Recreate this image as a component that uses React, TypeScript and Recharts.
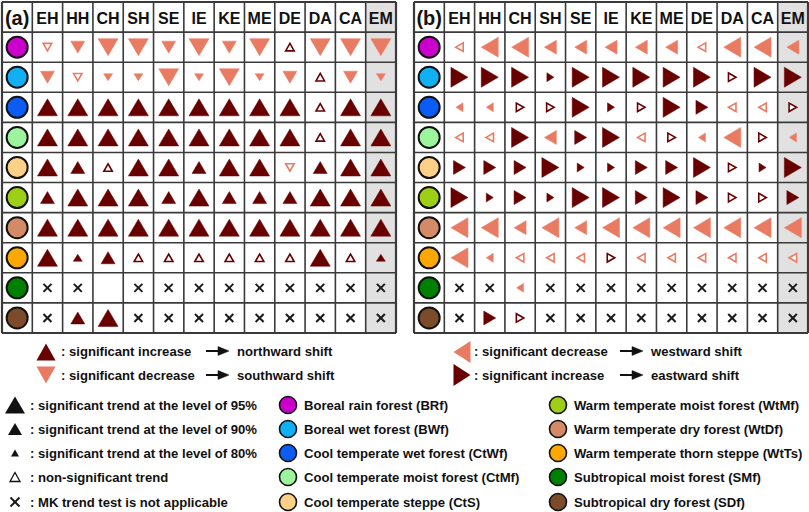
import React from "react";
import { ScatterChart, Scatter, XAxis, YAxis, ReferenceLine, ReferenceArea } from "recharts";

// ── data ────────────────────────────────────────────────────────────────────
const REGIONS = ["EH", "HH", "CH", "SH", "SE", "IE", "KE", "ME", "DE", "DA", "CA", "EM"];
const ZONES = ["BRf", "BWf", "CtWf", "CtMf", "CtS", "WtMf", "WtDf", "WtTs", "SMf", "SDf"];
const ZONE_NAMES = [
  "Boreal rain forest (BRf)", "Boreal wet forest (BWf)", "Cool temperate wet forest (CtWf)",
  "Cool temperate moist forest (CtMf)", "Cool temperate steppe (CtS)",
  "Warm temperate moist forest (WtMf)", "Warm temperate dry forest (WtDf)",
  "Warm temperate thorn steppe (WtTs)", "Subtropical moist forest (SMf)", "Subtropical dry forest (SDf)",
];
const ZONE_COLORS = [
  "#cc00cc", "#11b0f5", "#0b5cf3", "#9cf59c", "#fdd088",
  "#9dcf17", "#d48a66", "#fca800", "#008000", "#7b4b2a",
];

// code = direction + level (3/2/1 = 95/90/80 %, 0 = not significant), "x" = n/a, "" = empty
// (a) latitude: U = increase (northward), D = decrease (southward)
const LAT_TRENDS = [
  ["D0", "D2", "D3", "D3", "D2", "D3", "D2", "D3", "U0", "D3", "D3", "D3"],
  ["D2", "D0", "D1", "D1", "D3", "D1", "D3", "D1", "D2", "U0", "D2", "D1"],
  ["U3", "U3", "U3", "U3", "U3", "U3", "U3", "U3", "U3", "U0", "U3", "U3"],
  ["U3", "U3", "U3", "U3", "U3", "U3", "U3", "U3", "U3", "U0", "U3", "U3"],
  ["U3", "U2", "U0", "U3", "U3", "U2", "U3", "U3", "D0", "U2", "U3", "U3"],
  ["U2", "U3", "U3", "U3", "U2", "U3", "U2", "U2", "U2", "U3", "U3", "U3"],
  ["U3", "U3", "U3", "U3", "U3", "U3", "U3", "U3", "U3", "U3", "U3", "U3"],
  ["U3", "U1", "U2", "U0", "U0", "U0", "U0", "U0", "U0", "U3", "U0", "U1"],
  ["x", "x", "", "x", "x", "x", "x", "x", "x", "x", "x", "x"],
  ["x", "U2", "U3", "x", "x", "x", "x", "x", "x", "x", "x", "x"],
];
// (b) longitude: R = increase (eastward), L = decrease (westward)
const LON_TRENDS = [
  ["L0", "L3", "L3", "L2", "L2", "L2", "L2", "L2", "L0", "L3", "L3", "L2"],
  ["R3", "R3", "R3", "R1", "R3", "R3", "R3", "R3", "R3", "R0", "R3", "R3"],
  ["L1", "L1", "R0", "R0", "R3", "R1", "R0", "R3", "R2", "L0", "L0", "R0"],
  ["L0", "L0", "R3", "L2", "R2", "R3", "L0", "R0", "L1", "L3", "R0", "L1"],
  ["R2", "R2", "R2", "R3", "R1", "R1", "R2", "R2", "R3", "R0", "R1", "R3"],
  ["R3", "R1", "R2", "R1", "R3", "R3", "R2", "R3", "R2", "R0", "R0", "R2"],
  ["L3", "L3", "L2", "L3", "L2", "L3", "L3", "L3", "L3", "L3", "L3", "L3"],
  ["L3", "L1", "L0", "L0", "L0", "R0", "L0", "L0", "L0", "L0", "L0", "L0"],
  ["x", "x", "L1", "x", "x", "x", "x", "x", "x", "x", "x", "x"],
  ["x", "R2", "R0", "x", "x", "x", "x", "x", "x", "x", "x", "x"],
];

const SIG_LABELS = [
  ": significant trend at the level of 95%", ": significant trend at the level of 90%",
  ": significant trend at the level of 80%", ": non-significant trend", ": MK trend test is not applicable",
];

// ── styles ──────────────────────────────────────────────────────────────────
const FONT = "'Liberation Sans', Arial, sans-serif";
const DARK = "#680000";
const SALMON = "#ea7b63";
const LINE = "#3a3a3a";
// [base, height] per level
const SIZE: Record<number, [number, number]> = { 3: [20, 17], 2: [14, 12], 1: [9, 7], 0: [10, 9] };

function triPoints(dir: string, cx: number, cy: number, b: number, h: number) {
  const p = (a: number[][]) => a.map((q) => q.join(",")).join(" ");
  switch (dir) {
    case "U": return p([[cx - b / 2, cy + h / 2], [cx + b / 2, cy + h / 2], [cx, cy - h / 2]]);
    case "D": return p([[cx - b / 2, cy - h / 2], [cx + b / 2, cy - h / 2], [cx, cy + h / 2]]);
    case "R": return p([[cx - h / 2, cy - b / 2], [cx - h / 2, cy + b / 2], [cx + h / 2, cy]]);
    default:  return p([[cx + h / 2, cy - b / 2], [cx + h / 2, cy + b / 2], [cx - h / 2, cy]]);
  }
}

function Cross({ cx, cy, s = 4 }: { cx: number; cy: number; s?: number }) {
  return (
    <g stroke="#1a1a1a" strokeWidth={2}>
      <line x1={cx - s} y1={cy - s} x2={cx + s} y2={cy + s} />
      <line x1={cx - s} y1={cy + s} x2={cx + s} y2={cy - s} />
    </g>
  );
}

function TrendMark(props: any) {
  const { cx, cy, payload } = props;
  const code: string = payload.code;
  if (!code) return <g />;
  if (code === "x") return <Cross cx={cx} cy={cy} />;
  const dir = code[0];
  const level = Number(code[1]);
  const [b, h] = SIZE[level];
  const color = dir === "U" || dir === "R" ? DARK : SALMON;
  const filled = level > 0;
  return (
    <polygon
      points={triPoints(dir, cx, cy, filled ? b : b - 1.5, filled ? h : h - 1.5)}
      fill={filled ? color : "#fff"} stroke={color} strokeWidth={filled ? 0.5 : 1.6}
    />
  );
}

function HeaderMark(props: any) {
  const { cx, cy, payload } = props;
  const first = payload.x === 0;
  return (
    <text x={cx} y={cy + 1} textAnchor="middle" dominantBaseline="central"
      fontFamily={FONT} fontWeight="bold" fontSize={first ? 20 : 16} fill="#111">
      {payload.label}
    </text>
  );
}

function ZoneMark(props: any) {
  const { cx, cy, payload } = props;
  return <circle cx={cx} cy={cy} r={10.5} fill={payload.color} stroke="#111" strokeWidth={2} />;
}

const X_BOUNDS = Array.from({ length: 14 }, (_, i) => i - 0.5);
const Y_BOUNDS = Array.from({ length: 12 }, (_, i) => i - 0.5);

function Panel({ tag, trends }: { tag: string; trends: string[][] }) {
  const header = [{ x: 0, y: 0, label: tag }, ...REGIONS.map((r, i) => ({ x: i + 1, y: 0, label: r }))];
  const zones = ZONES.map((z, i) => ({ x: 0, y: i + 1, zone: z, color: ZONE_COLORS[i] }));
  const cells = trends.flatMap((row, r) => row.map((code, c) => ({ x: c + 1, y: r + 1, code })));
  return (
    <ScatterChart width={398} height={335} margin={{ top: 2, right: 2, bottom: 2, left: 2 }}>
      <XAxis type="number" dataKey="x" domain={[-0.5, 12.5]} hide />
      <YAxis type="number" dataKey="y" domain={[-0.5, 10.5]} reversed hide />
      <ReferenceArea x1={11.5} x2={12.5} y1={-0.5} y2={10.5} fill="#e1e1e1" fillOpacity={1} stroke="none" />
      {X_BOUNDS.map((b, i) => (
        <ReferenceLine key={"vx" + i} x={b} stroke={LINE}
          strokeWidth={i === 0 || i === X_BOUNDS.length - 1 ? 2.2 : 1.6} />
      ))}
      {Y_BOUNDS.map((b, i) => (
        <ReferenceLine key={"hy" + i} y={b} stroke={LINE}
          strokeWidth={i === 0 || i === Y_BOUNDS.length - 1 ? 2.2 : 1.6} />
      ))}
      <Scatter data={header} shape={(p: any) => <HeaderMark {...p} />} isAnimationActive={false} />
      <Scatter data={zones} shape={(p: any) => <ZoneMark {...p} />} isAnimationActive={false} />
      <Scatter data={cells} shape={(p: any) => <TrendMark {...p} />} isAnimationActive={false} />
    </ScatterChart>
  );
}

function Arrow({ x, y }: { x: number; y: number }) {
  return (
    <g fill="#111" stroke="#111">
      <line x1={x} y1={y} x2={x + 14} y2={y} strokeWidth={2} />
      <polygon points={`${x + 12},${y - 4.5} ${x + 23},${y} ${x + 12},${y + 4.5}`} strokeWidth={0.5} />
    </g>
  );
}

function LegendText({ x, y, children }: { x: number; y: number; children: React.ReactNode }) {
  return (
    <text x={x} y={y} dominantBaseline="central" fontFamily={FONT} fontWeight="bold" fontSize={13.1} fill="#111">
      {children}
    </text>
  );
}

function Legend() {
  const rows = [405, 429, 453, 477, 502];
  const sigMarks = [
    <polygon key="s3" points={triPoints("U", 15, rows[0], 20, 17)} fill="#111" />,
    <polygon key="s2" points={triPoints("U", 15, rows[1], 14, 12)} fill="#111" />,
    <polygon key="s1" points={triPoints("U", 15, rows[2], 8, 7)} fill="#111" />,
    <polygon key="s0" points={triPoints("U", 15, rows[3], 10, 9)} fill="none" stroke="#111" strokeWidth={1.3} />,
    <Cross key="sx" cx={15} cy={rows[4]} s={4.5} />,
  ];
  return (
    <svg width={809} height={512} style={{ position: "absolute", left: 0, top: 0 }}>
      <polygon points={triPoints("U", 46, 352, 19, 17)} fill={DARK} />
      <LegendText x={61} y={351}>: significant increase</LegendText>
      <Arrow x={206} y={351} />
      <LegendText x={237} y={351}>northward shift</LegendText>
      <polygon points={triPoints("D", 46, 375, 19, 17)} fill={SALMON} />
      <LegendText x={61} y={375}>: significant decrease</LegendText>
      <Arrow x={206} y={375} />
      <LegendText x={237} y={375}>southward shift</LegendText>

      <polygon points={triPoints("L", 462, 352, 22, 17)} fill={SALMON} />
      <LegendText x={474} y={351}>: significant decrease</LegendText>
      <Arrow x={620} y={351} />
      <LegendText x={651} y={351}>westward shift</LegendText>
      <polygon points={triPoints("R", 462, 375, 22, 17)} fill={DARK} />
      <LegendText x={474} y={375}>: significant increase</LegendText>
      <Arrow x={620} y={375} />
      <LegendText x={651} y={375}>eastward shift</LegendText>

      {sigMarks}
      {SIG_LABELS.map((t, i) => <LegendText key={t} x={30} y={rows[i]}>{t}</LegendText>)}
      {ZONE_NAMES.map((name, i) => {
        const col = i < 5 ? 0 : 1;
        const y = rows[i % 5];
        const cx = col === 0 ? 288 : 558;
        return (
          <g key={name}>
            <circle cx={cx} cy={y} r={8.5} fill={ZONE_COLORS[i]} stroke="#111" strokeWidth={1.6} />
            <LegendText x={cx + 16} y={y}>{name}</LegendText>
          </g>
        );
      })}
    </svg>
  );
}

export default function App() {
  return (
    <div style={{ position: "absolute", left: 0, top: 0, width: 809, height: 512, background: "#fff", fontFamily: FONT }}>
      <Legend />
      <div style={{ position: "absolute", left: 0, top: 0 }}>
        <Panel tag="(a)" trends={LAT_TRENDS} />
      </div>
      <div style={{ position: "absolute", left: 412, top: 0 }}>
        <Panel tag="(b)" trends={LON_TRENDS} />
      </div>
    </div>
  );
}
